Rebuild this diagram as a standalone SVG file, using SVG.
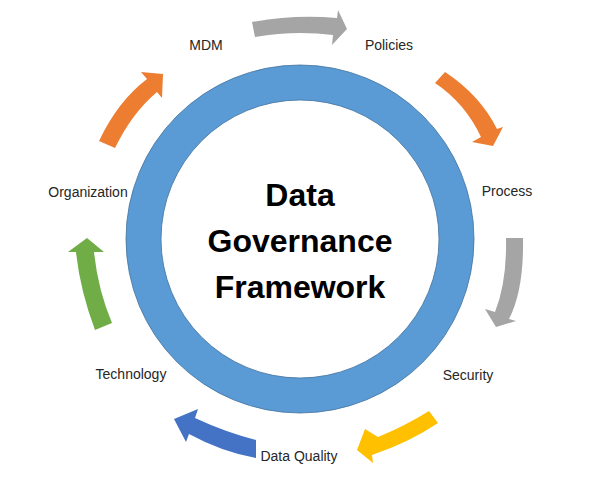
<svg xmlns="http://www.w3.org/2000/svg" width="600" height="502" viewBox="0 0 600 502">
<style>
.lbl{font-family:"Liberation Sans",Arial,sans-serif;font-size:14px;fill:#262626;text-anchor:middle}
.ttl{font-family:"Liberation Sans",Arial,sans-serif;font-size:32px;font-weight:bold;fill:#000;text-anchor:middle}
.gray{fill:#A5A5A5}
.orange{fill:#ED7D31}
.yellow{fill:#FFC000}
.blue{fill:#4472C4}
.green{fill:#70AD47}
</style>
<rect width="600" height="502" fill="#fff"/>
<g id="framework">
<path d="M126,239 A174,174 0 1 0 474,239 A174,174 0 1 0 126,239 Z M161,239 A139,139 0 1 1 439,239 A139,139 0 1 1 161,239 Z" fill="#5B9BD5" fill-rule="evenodd" stroke="#41719C" stroke-width="0.8"/>
<text class="ttl" x="300" y="206">Data</text>
<text class="ttl" x="300" y="252">Governance</text>
<text class="ttl" x="300" y="298">Framework</text>
</g>
<g id="mdm"><text class="lbl" x="206" y="50">MDM</text></g>
<g id="policies"><text class="lbl" x="389" y="50">Policies</text></g>
<g id="process"><text class="lbl" x="507" y="196">Process</text></g>
<g id="security"><text class="lbl" x="468" y="380">Security</text></g>
<g id="data-quality"><text class="lbl" x="299" y="461">Data Quality</text></g>
<g id="technology"><text class="lbl" x="131" y="379">Technology</text></g>
<g id="organization"><text class="lbl" x="88" y="197">Organization</text></g>
<g id="connectors">
<path class="gray" d="M252,22 Q295,14 337,18 L338,10 L347,29 L332,45 L333,35 Q295,30 255,37 Z"/>
<path class="orange" d="M445,72 Q480,95 497,129 L503,127 L493,146 L472,142 L481,137 Q465,103 435,83 Z"/>
<path class="gray" d="M506,238 L523,238 Q524,290 509,319 L516,321 L496,327 L485,309 L495,312 Q507,282 506,238 Z"/>
<path class="yellow" d="M429,411 Q405,426 378,437 L365,429 L357,450 L373,463 L372,455 Q410,442 438,423 Z"/>
<path class="blue" d="M256,440 Q225,432 195,418 L198,409 L174,419 L186,442 L189,434 Q222,452 256,458 Z"/>
<path class="green" d="M95,330 Q80,290 76,252 L68,252 L87,238 L104,252 L94,252 Q98,290 112,323 Z"/>
<path class="orange" d="M99,141 Q118,101 147,79 L141,72 L163,74 L162,98 L157,92 Q132,113 115,148 Z"/>
</g>
</svg>
